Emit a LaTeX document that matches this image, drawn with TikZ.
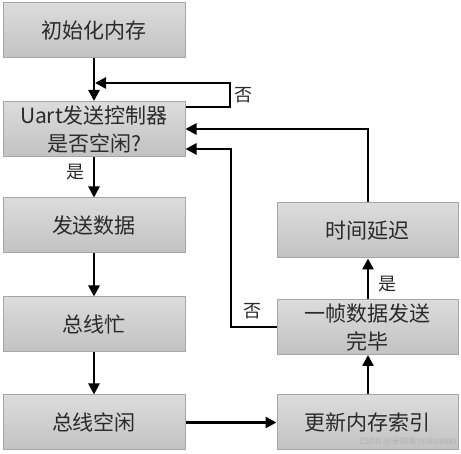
\documentclass[tikz,border=0pt]{standalone}
\usepackage{fontspec}
\setmainfont{Noto Sans CJK SC}
\usetikzlibrary{arrows.meta}
\definecolor{boxtop}{HTML}{DCDCDC}
\definecolor{boxbot}{HTML}{C2C2C2}
\definecolor{boxline}{HTML}{A6A6A6}
\definecolor{txt}{HTML}{2A2A2A}
\tikzset{
  stepbox/.style={draw=boxline, line width=1pt, top color=boxtop, bottom color=boxbot,
    minimum width=182pt, minimum height=55pt, inner sep=0pt, align=center,
    text=txt, font=\fontsize{21}{26}\selectfont},
  flow/.style={line width=2.6pt, -{Triangle[length=11pt,width=11pt]}},
  lbl/.style={text=txt, font=\fontsize{18}{20}\selectfont, inner sep=0pt}
}
\begin{document}
\begin{tikzpicture}[x=1pt,y=-1pt]
\useasboundingbox (0,0) rectangle (461,454);
\fill[white] (0,0) rectangle (461,454);
\node[stepbox] (b1) at (94,30.5) {初始化内存};
\node[stepbox] (b2) at (94,129) {Uart发送控制器\\[2pt]是否空闲?};
\node[stepbox] (b3) at (94,225.5) {发送数据};
\node[stepbox] (b4) at (94,324.5) {总线忙};
\node[stepbox] (b5) at (94,422.5) {总线空闲};
\node[stepbox, minimum width=181pt] (r1) at (367.5,230.5) {时间延迟};
\node[stepbox, minimum width=181pt] (r2) at (367.5,327) {一帧数据发送\\[2pt]完毕};
\node[stepbox, minimum width=181pt] (r3) at (367.5,422.5) {更新内存索引};

\coordinate (l1) at (230,107);
\coordinate (l2) at (230,83);
\coordinate (l3) at (95,83);
\coordinate (t1) at (368,129);
\coordinate (f1) at (231,327);
\coordinate (f2) at (231,149);

\draw[flow] (b1.south) -- (b2.north);
\draw[flow] (b2.east |- l1) -- (l1) -- (l2) -- (l3);
\draw[flow] (b2.south) -- (b3.north);
\draw[flow] (b3.south) -- (b4.north);
\draw[flow] (b4.south) -- (b5.north);
\draw[flow] (b5.east) -- (r3.west);
\draw[flow] (r3.north -| t1) -- (r2.south -| t1);
\draw[flow] (r2.north -| t1) -- (r1.south -| t1);
\draw[flow] (r1.north -| t1) -- (t1) -- (b2.east |- t1);
\draw[flow] (r2.west |- f1) -- (f1) -- (f2) -- (b2.east |- f2);

\node[lbl] (n1) at (243,95) {否};
\node[lbl] (n2) at (75,172) {是};
\node[lbl] (n3) at (252,311) {否};
\node[lbl] (n4) at (387,284) {是};
\node[text=gray!60, font=\fontsize{8.5}{10}\selectfont, anchor=east, inner sep=0pt] (wm) at (457,442) {CSDN @米联客(milianke)};
\end{tikzpicture}
\end{document}
